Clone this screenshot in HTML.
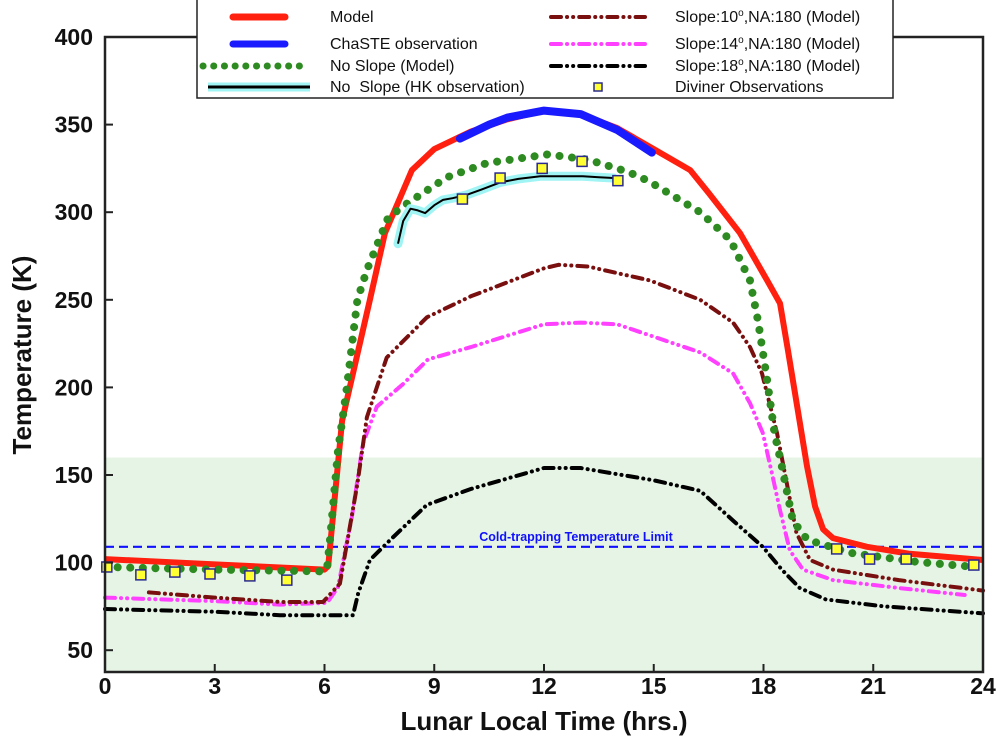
<!DOCTYPE html>
<html><head><meta charset="utf-8"><style>
body{margin:0;background:#fff;}
svg{display:block;font-family:"Liberation Sans",Arial,sans-serif;}
</style></head><body>
<svg id="chart" width="1000" height="747" viewBox="0 0 1000 747" xmlns="http://www.w3.org/2000/svg"></svg>
<script>
const xTicks=[0,3,6,9,12,15,18,21,24];
const yTicks=[50,100,150,200,250,300,350,400];
const coldLimit=109;
const shadeTop=160;
const modelT=[0,3,6,6.1,6.48,7.24,7.65,8.39,9,10,11,12,13,14,15,16,16.5,17.36,18.1,18.45,18.67,19.19,19.41,19.63,19.9,20.83,22,24];
const modelV=[102,99,96,98,181,250,288,324,336,346,353,358,356,348,336,324,311,288,261,248,221,155,132,119,114,109,105,101.5];
const chasteT=[9.7,10.5,11,12,13,14,14.95];
const chasteV=[342,350,354,358,356,347,334];
const noSlopeT=[0,3,6,6.07,6.15,6.37,6.6,6.9,7.16,7.74,8.26,9.35,10.44,12.1,13.2,14.3,14.84,16.27,17.1,17.63,17.85,18.1,18.3,18.5,18.8,19.2,20.4,22.2,23.8];
const noSlopeV=[97.5,96,95,97,113,164,198,250,267,297,305,320,328,333,330,323,318,300,284,261,238,204,174,155,124,113,105.5,100.4,97.5];
const hkT=[8.01,8.15,8.35,8.55,8.75,9.0,9.24,9.5,9.9,10.3,10.8,11.3,11.9,12.5,13.06,13.5,13.9];
const hkV=[282,295,302,301,299.5,304,307,308,310,313,317,319,320.5,320.5,320.5,320,319.5];
const s10T=[1.2,3,4.8,5.96,6.42,6.9,7.16,7.7,8.8,10,12,12.4,13.2,14.9,16.27,17.17,17.63,17.96,18.37,18.64,18.9,19.27,19.9,21.7,24];
const s10V=[83,80,77.5,77.5,88,145,183,217,240,252,268,270,269,261,250,237,223,208,174,145,117,101.5,96,90,84];
const s14T=[0,3,4.78,6.07,6.37,6.75,7.05,7.43,8.15,8.83,10,12,13,14,16.27,17.17,17.63,17.98,18.23,18.45,18.72,19.08,19.9,21.7,23.5];
const s14V=[80,78,76,77,86,126,168,189,202,216,223,236,237,236,220,208,191,174,151,130,107,96,90,85.5,81.5];
const s18T=[0,3,4.78,6.78,6.92,7.24,7.8,8.8,10,12,13,15,16.27,17.17,17.98,18.5,18.99,19.7,21.3,24];
const s18V=[73.5,72,70,70,82.5,101.5,113,133,142,154,154,147,141,124,109,96,85.5,79,75,71];
const divT=[0.05,0.98,1.91,2.87,3.96,4.97,9.77,10.8,11.95,13.04,14.02,20.0,20.9,21.9,23.75];
const divV=[97.5,93,94.6,93.5,92.4,90,307.5,319.5,325,329,318,107.8,102,102,98.6];

const NS="http://www.w3.org/2000/svg";
const svg=document.getElementById('chart');
const L=105,R=983,T0=37,B=672;
function X(t){return L+(t/24)*(R-L);}
function Y(v){return 37+(400-v)*1.752;}
function mk(tag,attrs,parent){const e=document.createElementNS(NS,tag);for(const k in attrs)e.setAttribute(k,attrs[k]);(parent||svg).appendChild(e);return e;}
function pts(ts,vs){return ts.map((t,i)=>X(t).toFixed(1)+','+Y(vs[i]).toFixed(1)).join(' ');}

let e;
e=mk('rect',{x:L,y:Y(shadeTop),width:R-L,height:B-Y(shadeTop),fill:'#e6f4e6'});



e=mk('line',{x1:L,y1:Y(coldLimit),x2:R,y2:Y(coldLimit),stroke:'#1010ff','stroke-width':2.2,'stroke-dasharray':'9 5'});


e=mk('text',{x:576,y:Y(coldLimit)-6,'text-anchor':'middle','font-size':12.5,'font-weight':'bold',fill:'#1010ff'});
e.textContent='Cold-trapping Temperature Limit';



function series(name,ts,vs,attrs){const p=mk('polyline',Object.assign({points:pts(ts,vs),fill:'none','stroke-linejoin':'round'},attrs));return p;}
const dd='10 6 0.1 6 0.1 6';
series('slope-18-line',s18T,s18V,{stroke:'#000','stroke-width':4,'stroke-linecap':'round','stroke-dasharray':dd});
series('slope-14-line',s14T,s14V,{stroke:'#ff40ff','stroke-width':4,'stroke-linecap':'round','stroke-dasharray':dd});
series('slope-10-line',s10T,s10V,{stroke:'#7a0f0f','stroke-width':4,'stroke-linecap':'round','stroke-dasharray':dd});
series('model-line',modelT,modelV,{stroke:'#ff2010','stroke-width':6});
series('chaste-line',chasteT,chasteV,{stroke:'#1a1aff','stroke-width':8,'stroke-linecap':'round'});
series('no-slope-model-line',noSlopeT,noSlopeV,{stroke:'#2e8b22','stroke-width':8,'stroke-linecap':'round','stroke-dasharray':'0.1 12.5'});
series('hk-glow',hkT,hkV,{stroke:'#a0f4f4','stroke-width':9,'stroke-linecap':'round'});
series('hk-observation-line',hkT,hkV,{stroke:'#000','stroke-width':2});
divT.forEach((t,i)=>{const r=mk('rect',{x:X(t)-5,y:Y(divV[i])-5,width:10,height:10,fill:'#ffff33',stroke:'#2a2a90','stroke-width':1.5});

});

e=mk('rect',{x:L,y:T0,width:R-L,height:B-T0,fill:'none',stroke:'#222','stroke-width':2.5});



xTicks.forEach(t=>{mk('line',{x1:X(t),y1:B,x2:X(t),y2:B-8,stroke:'#222','stroke-width':2});
const tx=mk('text',{x:X(t),y:694,'text-anchor':'middle','font-size':23,'font-weight':'bold',fill:'#111'});tx.textContent=t;

});
yTicks.forEach(v=>{mk('line',{x1:L,y1:Y(v),x2:L+8,y2:Y(v),stroke:'#222','stroke-width':2});
const tx=mk('text',{x:93,y:Y(v)+8,'text-anchor':'end','font-size':23,'font-weight':'bold',fill:'#111'});tx.textContent=v;

});

e=mk('text',{x:544,y:730,'text-anchor':'middle','font-size':26,'font-weight':'bold',fill:'#111'});e.textContent='Lunar Local Time (hrs.)';


e=mk('text',{x:0,y:0,transform:'translate(31,355) rotate(-90)','text-anchor':'middle','font-size':26,'font-weight':'bold',fill:'#111'});e.textContent='Temperature (K)';



const lg=mk('g',{});


mk('rect',{x:197,y:-1,width:696,height:99,fill:'#fff',stroke:'#222','stroke-width':1.5},lg);
const rows=[17,44,66,87];
function ltxt(x,y,s){const t=mk('text',{x:x,y:y+5,'font-size':16,fill:'#111'},lg);t.innerHTML=s;}
mk('line',{x1:233,y1:rows[0],x2:285,y2:rows[0],stroke:'#ff2010','stroke-width':7,'stroke-linecap':'round'},lg);
mk('line',{x1:233,y1:rows[1],x2:285,y2:rows[1],stroke:'#1a1aff','stroke-width':7,'stroke-linecap':'round'},lg);
mk('line',{x1:203,y1:rows[2],x2:300,y2:rows[2],stroke:'#2e8b22','stroke-width':7,'stroke-linecap':'round','stroke-dasharray':'0.1 10.6'},lg);
mk('line',{x1:208,y1:rows[3],x2:310,y2:rows[3],stroke:'#a0f4f4','stroke-width':9},lg);
mk('line',{x1:208,y1:rows[3],x2:310,y2:rows[3],stroke:'#000','stroke-width':3},lg);
ltxt(330,rows[0],'Model');ltxt(330,rows[1],'ChaSTE observation');ltxt(330,rows[2],'No Slope (Model)');ltxt(330,rows[3],'No&#160; Slope (HK observation)');
[['#7a0f0f',0],['#ff40ff',1],['#000',2]].forEach(([c,i])=>mk('line',{x1:551,y1:rows[i],x2:645,y2:rows[i],stroke:c,'stroke-width':4,'stroke-linecap':'round','stroke-dasharray':dd},lg));
mk('rect',{x:594,y:rows[3]-4,width:8,height:8,fill:'#ffff33',stroke:'#2a2a90','stroke-width':1.5},lg);
ltxt(675,rows[0],'Slope:10<tspan dy="-6" font-size="10">o</tspan><tspan dy="6">,NA:180 (Model)</tspan>');
ltxt(675,rows[1],'Slope:14<tspan dy="-6" font-size="10">o</tspan><tspan dy="6">,NA:180 (Model)</tspan>');
ltxt(675,rows[2],'Slope:18<tspan dy="-6" font-size="10">o</tspan><tspan dy="6">,NA:180 (Model)</tspan>');
ltxt(675,rows[3],'Diviner Observations');
</script>
</body></html>
